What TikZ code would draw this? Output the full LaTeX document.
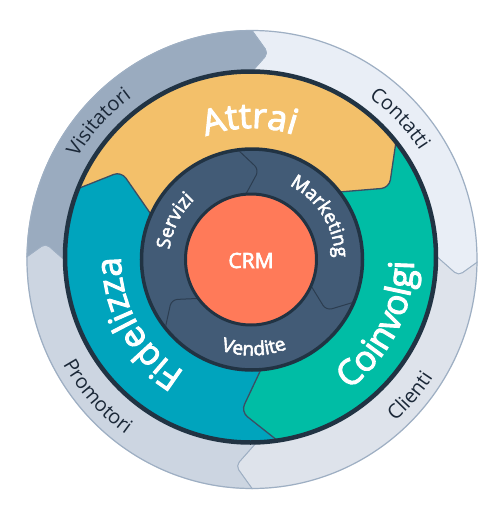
\documentclass[tikz,border=0pt]{standalone}
\usepackage{fontspec}
\setmainfont{Open Sans}
\newfontfamily\osreg{Open Sans}
\newfontfamily\osemi[FakeBold=3]{Open Sans}
\usetikzlibrary{decorations.text,calc}
\definecolor{navy}{HTML}{213343}
\definecolor{slate}{HTML}{425B76}
\definecolor{slateline}{HTML}{2C3D50}
\definecolor{crmor}{HTML}{FF7A59}
\definecolor{yel}{HTML}{F3C06A}
\definecolor{grn}{HTML}{00BDA5}
\definecolor{blu}{HTML}{00A4BD}
\definecolor{gvis}{HTML}{9AABBF}
\definecolor{gcon}{HTML}{E9EEF6}
\definecolor{gcli}{HTML}{DEE3EB}
\definecolor{gpro}{HTML}{CCD5E1}
\definecolor{gline}{HTML}{9EAFC3}
\definecolor{segline}{HTML}{3B4E64}
\definecolor{lbl}{HTML}{1B2838}

\newcommand{\greyseg}[3]{%
  \filldraw[fill=#1, draw=gline, line width=0.9pt, rounded corners=5pt]
    ($(#2-4.5:207pt)!1.6!(#2:188pt)$) -- (#2-4.5:207pt) -- ($(#2-4.5:207pt)!1.6!(#2:229pt)$)
    -- (#2+30:270pt) -- (#2+60:270pt)
    -- ($(#3-4.5:207pt)!1.6!(#3:229pt)$) -- (#3-4.5:207pt) -- ($(#3-4.5:207pt)!1.6!(#3:188pt)$)
    -- (0,0) -- cycle;}
\newcommand{\colseg}[3]{%
  \fill[#1, rounded corners=8pt]
    ($(#2-10.5:155pt)!1.45!(#2-2:114pt)$) -- (#2-10.5:155pt) -- ($(#2-10.5:155pt)!1.45!(#2+1.5:186pt)$)
    -- (#2+40:230pt) -- (#2+80:230pt)
    -- ($(#3-10.5:155pt)!1.45!(#3+1.5:186pt)$) -- (#3-10.5:155pt) -- ($(#3-10.5:155pt)!1.45!(#3-2:114pt)$)
    -- (0,0) -- cycle;}
\newcommand{\colline}[1]{%
  \draw[segline, line width=1.3pt, rounded corners=8pt]
    ($(#1-10.5:155pt)!1.45!(#1-2:114pt)$) -- (#1-10.5:155pt) -- ($(#1-10.5:155pt)!1.45!(#1+1.5:186pt)$);}
\newcommand{\darkline}[1]{%
  \draw[slateline, line width=1pt, rounded corners=6pt]
    ($(#1-9.5:90pt)!1.5!(#1-1.5:69pt)$) -- (#1-9.5:90pt) -- ($(#1-9.5:90pt)!1.5!(#1+2.5:111pt)$);}
\newcommand{\cwlabel}[5]{%
  \path[decorate, decoration={text along path, text align=center, text color=#5, text={|#4|#1}}]
    (#2+60:#3) arc[start angle=#2+60, end angle=#2-60, radius=#3];}
\newcommand{\ccwlabel}[5]{%
  \path[decorate, decoration={text along path, text align=center, text color=#5, text={|#4|#1}}]
    (#2-60:#3) arc[start angle=#2-60, end angle=#2+60, radius=#3];}

\begin{document}
\begin{tikzpicture}[x=1pt,y=1pt]
\useasboundingbox (-252,-252.5) rectangle (250,259.5);
\fill[white] (-252,-252.5) rectangle (250,259.5);

% outer grey ring
\begin{scope}
  \clip (0,0) ellipse [x radius=225.5pt, y radius=229.5pt];
  \greyseg{gcon}{0}{90}
  \greyseg{gcli}{-90}{0}
  \greyseg{gpro}{180}{270}
  \greyseg{gvis}{90}{180}
\end{scope}
\draw[gline, line width=1.2pt] (0,0) ellipse [x radius=225pt, y radius=229pt];

% coloured ring
\begin{scope}[shift={(-1.5,2.5)}]
  \begin{scope}
    \clip (0,0) circle (187pt);
    \colseg{yel}{37}{157}
    \colseg{grn}{-83}{37}
    \colseg{blu}{157}{277}
    \colline{37}
    \colline{-83}
    \colline{157}
  \end{scope}
  \draw[navy, line width=4.5pt] (0,0) circle (185.5pt);
\end{scope}

% dark ring
\filldraw[fill=slate, draw=navy, line width=3.5pt] (0,0) circle (110.5pt);
\begin{scope}
  \clip (0,0) circle (109pt);
  \darkline{95}
  \darkline{-25}
  \darkline{-144}
\end{scope}

% CRM
\filldraw[fill=crmor, draw=navy, line width=3pt] (-1,0) circle (65.5pt);
\node[text=white, font=\osemi\fontsize{21}{25}\selectfont] (crm) at (-1,-1) {CRM};

% outer labels
\cwlabel{Visitatori}{138.1}{202pt}{\osreg\fontsize{20}{24}\selectfont}{lbl}
\cwlabel{Contatti}{43.6}{200pt}{\osreg\fontsize{20}{24}\selectfont}{lbl}
\ccwlabel{Clienti}{-40.8}{216pt}{\osreg\fontsize{20}{24}\selectfont}{lbl}
\ccwlabel{Promotori}{-138.4}{216pt}{\osreg\fontsize{20}{24}\selectfont}{lbl}

% ring labels
\cwlabel{Attrai}{91}{131.5pt}{\osemi\fontsize{35}{40}\selectfont}{white}
\ccwlabel{Coinvolgi}{-27}{162pt}{\osemi\fontsize{35}{40}\selectfont}{white}
\cwlabel{Fidelizza}{209}{131pt}{\osemi\fontsize{35}{40}\selectfont}{white}

% inner labels
\cwlabel{Servizi}{153.5}{83pt}{\osemi\fontsize{19}{23}\selectfont}{white}
\cwlabel{Marketing}{32.3}{83pt}{\osemi\fontsize{19}{23}\selectfont}{white}
\ccwlabel{Vendite}{-88.8}{96pt}{\osemi\fontsize{19}{23}\selectfont}{white}
\end{tikzpicture}
\end{document}
